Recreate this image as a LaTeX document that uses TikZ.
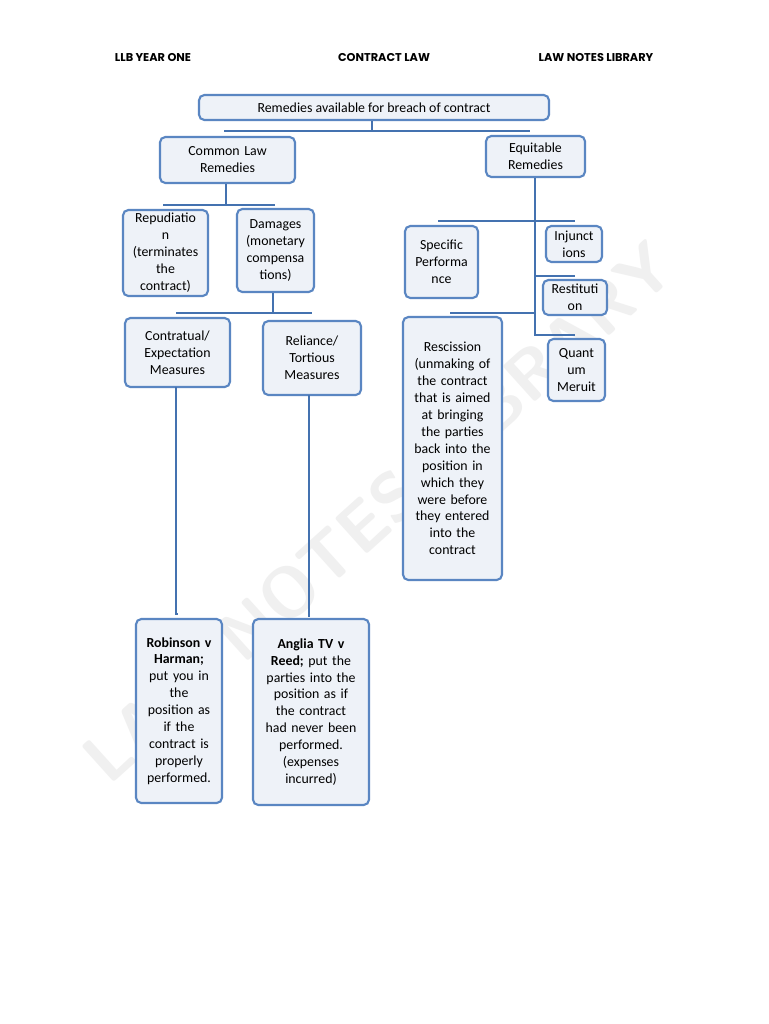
\documentclass[tikz,border=0pt]{standalone}
\usepackage{fontspec}
\setmainfont{Carlito}
\newfontfamily\hdfont{Poppins}
\definecolor{bfill}{HTML}{EEF2F8}
\definecolor{bdraw}{HTML}{5A86C2}
\definecolor{lcol}{HTML}{4472B0}
\begin{document}
\begin{tikzpicture}[x=0.75pt,y=-0.75pt,
  bx/.style={draw=bdraw,fill=bfill,line width=1.6pt,rounded corners=4pt,align=center,font=\fontsize{10.4}{12.7}\selectfont,inner sep=1pt},
  ln/.style={draw=lcol,line width=1.5pt},
  hd/.style={font=\hdfont\bfseries\fontsize{8.5}{10}\selectfont}]
\useasboundingbox (0,0) rectangle (768,1024);
\fill[white] (0,0) rectangle (768,1024);
\node[rotate=42,text=black!6,font=\sffamily\bfseries\fontsize{52}{54}\selectfont] (wm) at (378,512) {LAW NOTES LIBRARY};
\node[hd] (h1) at (153,58) {LLB YEAR ONE};
\node[hd] (h2) at (384,58) {CONTRACT LAW};
\node[hd] (h3) at (596,58) {LAW NOTES LIBRARY};
% boxes
\node[bx,minimum width=350*0.75pt,minimum height=25*0.75pt] (top) at (374,107.5) {Remedies available for breach of contract};
\node[bx,minimum width=135*0.75pt,minimum height=46*0.75pt,text width=120*0.75pt] (clr) at (227.5,160) {Common Law\\Remedies};
\node[bx,minimum width=99*0.75pt,minimum height=41*0.75pt,text width=90*0.75pt] (er) at (535.5,156.5) {Equitable\\Remedies};
\node[bx,minimum width=85*0.75pt,minimum height=86*0.75pt,text width=80*0.75pt] (rep) at (165.5,253) {Repudiatio\\n\\(terminates\\the\\contract)};
\node[bx,minimum width=77*0.75pt,minimum height=83*0.75pt,text width=72*0.75pt] (dam) at (275.5,250.5) {Damages\\(monetary\\compensa\\tions)};
\node[bx,minimum width=105*0.75pt,minimum height=69*0.75pt,text width=98*0.75pt] (con) at (177.5,352.5) {Contratual/\\Expectation\\Measures};
\node[bx,minimum width=98*0.75pt,minimum height=74*0.75pt,text width=90*0.75pt] (rel) at (312,358) {Reliance/\\Tortious\\Measures};
\node[bx,minimum width=86*0.75pt,minimum height=184*0.75pt,text width=80*0.75pt] (rob) at (179,711) {\textbf{Robinson v}\\\textbf{Harman;}\\put you in\\the\\position as\\if the\\contract is\\properly\\performed.};
\node[bx,minimum width=116*0.75pt,minimum height=186*0.75pt,text width=108*0.75pt] (ang) at (311,712) {\textbf{Anglia TV v}\\\textbf{Reed;} put the\\parties into the\\position as if\\the contract\\had never been\\performed.\\(expenses\\incurred)};
\node[bx,minimum width=73*0.75pt,minimum height=72*0.75pt,text width=68*0.75pt] (spe) at (441.5,262) {Specific\\Performa\\nce};
\node[bx,minimum width=56*0.75pt,minimum height=36*0.75pt,text width=52*0.75pt] (inj) at (574,244) {Injunct\\ions};
\node[bx,minimum width=64*0.75pt,minimum height=35*0.75pt,text width=60*0.75pt] (res) at (575,297.5) {Restituti\\on};
\node[bx,minimum width=57*0.75pt,minimum height=62*0.75pt,text width=52*0.75pt] (qm) at (576.5,370) {Quant\\um\\Meruit};
\node[bx,minimum width=99*0.75pt,minimum height=263*0.75pt,text width=94*0.75pt] (resc) at (452.5,448.5) {Rescission\\(unmaking of\\the contract\\that is aimed\\at bringing\\the parties\\back into the\\position in\\which they\\were before\\they entered\\into the\\contract};
% connectors
\coordinate (t1) at (372,131);
\draw[ln] (top.south -| t1) -- (t1);
\coordinate (tl) at (224,131); \coordinate (tr) at (530,131);
\draw[ln] (tl) -- (tr);
\coordinate (c1) at (226,205);
\draw[ln] (clr.south -| c1) -- (c1);
\coordinate (cl) at (163,205); \coordinate (cr) at (275,205);
\draw[ln] (cl) -- (cr);
\coordinate (d1) at (273,313);
\draw[ln] (dam.south -| d1) -- (d1);
\coordinate (dl) at (176,313); \coordinate (dr) at (312,313);
\draw[ln] (dl) -- (dr);
\coordinate (k1) at (176,387); \coordinate (k2) at (176,614);
\draw[ln] (k1) -- (k2) -- (178,614);
\coordinate (r1) at (309,395); \coordinate (r2) at (309,617);
\draw[ln] (r1) -- (r2);
\coordinate (e1) at (535,335);
\draw[ln] (er.south -| e1) -- (e1) -- (575,335);
\coordinate (e2l) at (438,221); \coordinate (e2r) at (575,221);
\draw[ln] (e2l) -- (e2r);
\coordinate (e3l) at (535,276); \coordinate (e3r) at (575,276);
\draw[ln] (e3l) -- (e3r);
\coordinate (e4l) at (450,313); \coordinate (e4r) at (535,313);
\draw[ln] (e4l) -- (e4r);
\end{tikzpicture}
\end{document}
